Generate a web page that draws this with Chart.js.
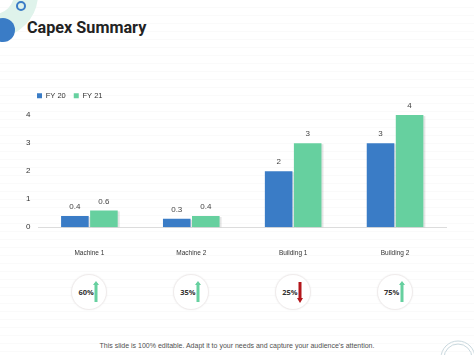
<!DOCTYPE html>
<html><head><meta charset="utf-8">
<script src="https://cdn.jsdelivr.net/npm/chart.js@4/dist/chart.umd.min.js"></script>
<style>
html,body{margin:0;padding:0;}
body{width:474px;height:355px;position:relative;overflow:hidden;background:#fff;
 background-image:repeating-linear-gradient(to bottom,#fff 0px,#fff 7px,#fafafa 7px,#fafafa 8px);
 font-family:"Liberation Sans",Arial,sans-serif;}
#title{position:absolute;left:27px;top:18px;font-family:Roboto,"Liberation Sans",sans-serif;font-weight:700;font-size:16.2px;color:#222;}
#deco{position:absolute;left:0;top:0;}
#wrap{position:absolute;left:0;top:77px;width:474px;height:194px;}
.circ{position:absolute;width:34px;height:34px;border-radius:50%;background:#fff;border:1px solid #f0ecec;box-shadow:0 0 2px rgba(0,0,0,0.06);}
.circ span{position:absolute;left:6px;top:12px;font-size:7.5px;font-weight:700;color:#333;font-family:"Open Sans","Liberation Sans",sans-serif;}
.circ svg{position:absolute;left:21px;top:6px;}
#foot{position:absolute;left:0;width:474px;top:342px;text-align:center;font-size:7px;color:#505050;}
</style></head>
<body>
<svg id="deco" width="474" height="355">
 <circle cx="-6" cy="-6" r="32" fill="none" stroke="#dff3eb" stroke-width="24"/>
 <circle cx="3" cy="30" r="12" fill="#3a7cc6"/>
 <circle cx="21" cy="6" r="4" fill="none" stroke="#3a7cc6" stroke-width="2"/>
 <circle cx="458" cy="358" r="17" fill="none" stroke="#c9d8de" stroke-width="1"/>
 <circle cx="458" cy="358" r="14" fill="none" stroke="#c9d8de" stroke-width="1"/>
</svg>
<div id="title">Capex Summary</div>
<div id="wrap"><canvas id="c"></canvas></div>
<div id="circles"></div>
<div id="foot">This slide is 100% editable. Adapt it to your needs and capture your audience's attention.</div>
<script>
const categories = ["Machine 1","Machine 2","Building 1","Building 2"];
const fy20 = [0.4, 0.3, 2, 3];
const fy21 = [0.6, 0.4, 3, 4];
const seriesNames = ["FY 20","FY 21"];
const yTicks = [0,1,2,3,4];
const percents = ["60%","35%","25%","75%"];
const trends = ["up","up","down","up"];

const BLUE = "#3a7cc6", GREEN = "#66d09f";
const FONT = '"Liberation Sans", Arial, sans-serif';

const valueLabels = {
  id:'valueLabels',
  afterDatasetsDraw(chart){
    const ctx = chart.ctx;
    ctx.save();
    ctx.font = '8px ' + FONT;
    ctx.fillStyle = '#444';
    ctx.textAlign = 'center';
    ctx.textBaseline = 'bottom';
    chart.data.datasets.forEach((ds,i)=>{
      chart.getDatasetMeta(i).data.forEach((el,j)=>{
        ctx.fillText(String(ds.data[j]), el.x, el.y - 5);
      });
    });
    ctx.restore();
  }
};
const barShadow = {
  id:'barShadow',
  beforeDatasetsDraw(chart){
    const ctx = chart.ctx;
    ctx.save();
    ctx.fillStyle = 'rgba(0,0,0,0.10)';
    chart.data.datasets.forEach((ds,i)=>{
      chart.getDatasetMeta(i).data.forEach(el=>{
        const w = el.width;
        ctx.fillRect(el.x - w/2 + 2, el.y + 1, w, el.base - el.y - 1);
      });
    });
    ctx.restore();
  }
};
const legendShift = {
  id:'legendShift',
  afterLayout(chart){
    if (chart.legend){ chart.legend.left += 11; chart.legend.right += 11; }
  }
};

const chart = new Chart(document.getElementById('c'), {
  type:'bar',
  data:{
    labels: categories,
    datasets:[
      {label: seriesNames[0], data: fy20, backgroundColor: BLUE},
      {label: seriesNames[1], data: fy21, backgroundColor: GREEN}
    ]
  },
  options:{
    responsive:true, maintainAspectRatio:false, animation:false,
    categoryPercentage:0.57, barPercentage:0.95,
    layout:{padding:{left:18,right:28,top:7,bottom:0}},
    plugins:{
      legend:{position:'top',align:'start',
        labels:{boxWidth:5,boxHeight:5,padding:8,color:'#333',font:{size:7.5,family:FONT}}},
      tooltip:{enabled:false}
    },
    scales:{
      x:{grid:{display:false},border:{display:true,color:'#dcdcdc'},
        ticks:{padding:14,color:'#333',font:{size:6.5,family:FONT}}},
      y:{min:0,max:4.2,grid:{display:false,drawTicks:false},border:{display:false},
        afterBuildTicks(s){ s.ticks = yTicks.map(v=>({value:v})); },
        ticks:{padding:8,color:'#333',font:{size:8,family:FONT}}}
    }
  },
  plugins:[barShadow, valueLabels, legendShift]
});

const wrap = document.getElementById('circles');
const xs = chart.scales.x;
categories.forEach((c,i)=>{
  const cx = xs.getPixelForValue(i);
  const d = document.createElement('div');
  d.className='circ';
  d.style.left = (cx - 18) + 'px';
  d.style.top = (292 - 18) + 'px';
  const up = trends[i]==='up';
  const col = up ? '#66d09f' : '#b3161b';
  const svg = up
   ? `<svg width="6" height="22"><polygon points="3,0 6,4 0,4" fill="${col}"/><rect x="1.5" y="2" width="3" height="19" fill="${col}"/></svg>`
   : `<svg width="6" height="22"><rect x="1.5" y="1" width="3" height="17" fill="${col}"/><polygon points="0,17 6,17 3,22" fill="${col}"/></svg>`;
  d.innerHTML = `<span>${percents[i]}</span>${svg}`;
  wrap.appendChild(d);
});
</script>
</body></html>
